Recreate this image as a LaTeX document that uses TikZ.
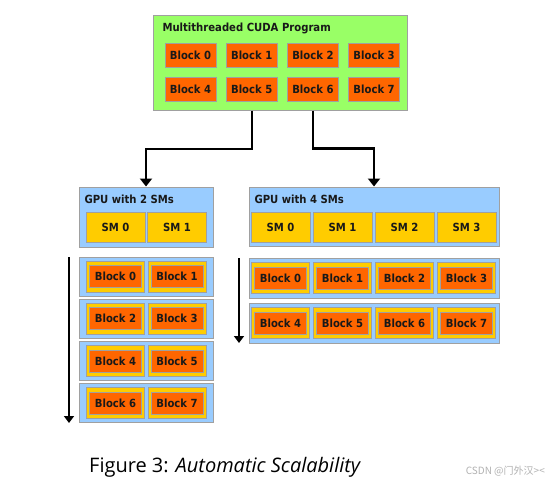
\documentclass[tikz,border=0pt]{standalone}
\usepackage{fontspec}
\setmainfont{Open Sans}
\newfontfamily\diagfont{DejaVu Sans Condensed}
\newfontfamily\cjkfont{Noto Sans CJK SC}
\usetikzlibrary{arrows.meta}
\definecolor{progGreen}{HTML}{99FF66}
\definecolor{blockOrange}{HTML}{FF6600}
\definecolor{smYellow}{HTML}{FFCC00}
\definecolor{gpuBlue}{HTML}{99CCFF}
\definecolor{edgeGray}{HTML}{A0A0A0}
\begin{document}
\begin{tikzpicture}[x=1pt,y=-1pt,
	box/.style={draw=edgeGray,line width=1pt,inner sep=0pt,text=black!90,
		font=\diagfont\bfseries\fontsize{11.2}{13}\selectfont},
	prog/.style={box,fill=progGreen,minimum width=254pt,minimum height=95pt},
	gpu/.style={box,fill=gpuBlue},
	sm/.style={box,fill=smYellow,minimum width=59pt,minimum height=30pt},
	slot/.style={box,fill=smYellow,minimum width=58pt,minimum height=31pt},
	blk/.style={box,fill=blockOrange,minimum width=51pt,minimum height=24pt},
	title/.style={box,draw=none,anchor=west},
	flow/.style={-{Triangle[width=12pt,length=8pt]},line width=2pt},
	time/.style={-{Triangle[width=10pt,length=7pt]},line width=1.6pt}]
\useasboundingbox[fill=white] (0,0) rectangle (548,482);
\node[prog] (prog) at (280,62.5) {};
\node[title] (progtitle) at (162,28) {Multithreaded CUDA Program};
\foreach \i in {0,...,7}{
	\pgfmathsetmacro\bx{190.5+61.2*mod(\i,4)}
	\pgfmathsetmacro\by{55+34*int(\i/4)}
	\node[blk] (b\i) at (\bx,\by) {Block \i};
}
\node[gpu,minimum width=134pt,minimum height=60pt] (gpu2) at (146,217) {};
\node[title] (gpu2title) at (84,199) {GPU with 2 SMs};
\foreach \j in {0,1}{
	\pgfmathsetmacro\sx{115.5+61.5*\j}
	\node[sm] (gpu2sm\j) at (\sx,227) {SM \j};
}
\foreach \r in {0,...,3}{
	\pgfmathsetmacro\ry{276.5+42.3*\r}
	\node[gpu,minimum width=134pt,minimum height=39pt] (row2\r) at (146,\ry) {};
	\foreach \j in {0,1}{
		\pgfmathsetmacro\sx{115.5+61.5*\j}
		\pgfmathtruncatemacro\k{2*\r+\j}
		\node[slot] (slot2\k) at (\sx,\ry) {};
		\node[blk,minimum width=52pt,minimum height=22pt] (blk2\k) at (\sx,\ry) {Block \k};
	}
}
\node[gpu,minimum width=250pt,minimum height=59pt] (gpu4) at (374,216.5) {};
\node[title] (gpu4title) at (254,199) {GPU with 4 SMs};
\foreach \j in {0,...,3}{
	\pgfmathsetmacro\sx{280.5+62*\j}
	\node[sm] (gpu4sm\j) at (\sx,227) {SM \j};
}
\foreach \r in {0,1}{
	\pgfmathsetmacro\ry{278+45*\r}
	\node[gpu,minimum width=250pt,minimum height=40pt] (row4\r) at (374,\ry) {};
	\foreach \j in {0,...,3}{
		\pgfmathsetmacro\sx{280.5+62*\j}
		\pgfmathtruncatemacro\k{4*\r+\j}
		\node[slot] (slot4\k) at (\sx,\ry) {};
		\node[blk,minimum width=52pt,minimum height=22pt] (blk4\k) at (\sx,\ry) {Block \k};
	}
}
\draw[flow] (prog.south -| b5) -- ++(0,38) -| (gpu2.north);
\draw[flow,line width=2.6pt] (prog.south -| b6) -- ++(0,38) -| (gpu4.north);
\coordinate (time2start) at (69,257);
\coordinate (time2end) at (69,423);
\coordinate (time4start) at (239,258);
\coordinate (time4end) at (239,343);
\draw[time] (time2start) -- (time2end);
\draw[time] (time4start) -- (time4end);
\node[anchor=base west,inner sep=0pt,font=\fontsize{20}{24}\selectfont] (caption) at (89,472)
	{Figure 3: \textit{Automatic Scalability}};
\node[anchor=base east,inner sep=0pt,text=black!30,font=\cjkfont\fontsize{10}{12}\selectfont] (mark) at (545,474)
	{CSDN @门外汉><};
\end{tikzpicture}
\end{document}
